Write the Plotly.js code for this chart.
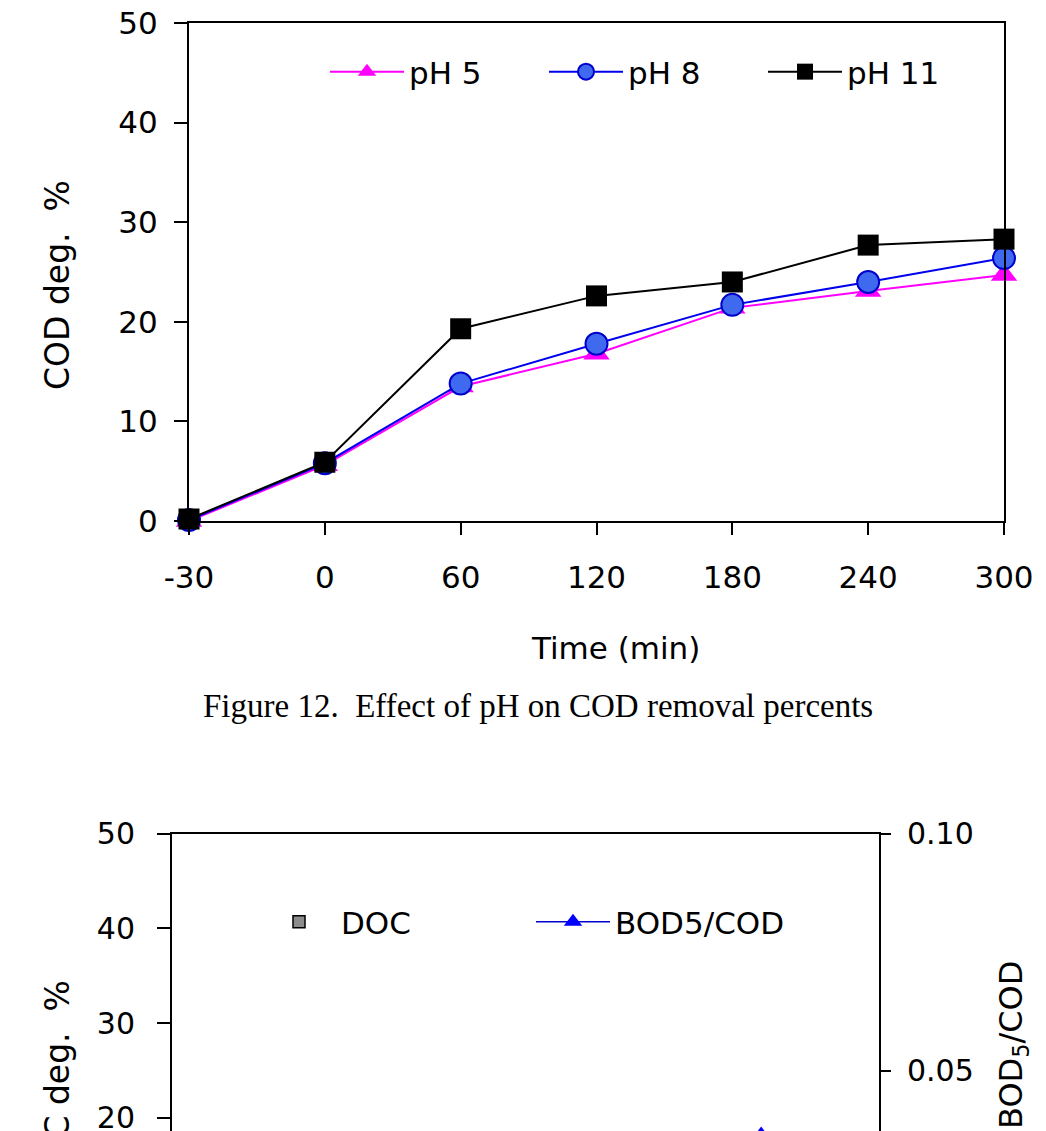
<!DOCTYPE html>
<html>
<head>
<meta charset="utf-8">
<script src="https://cdn.plot.ly/plotly-3.0.1.min.js"></script>
<style>
html, body { margin: 0; padding: 0; background: #fff; }
#wrap { width: 1046px; height: 1131px; overflow: hidden; position: relative; }
#chart { width: 1046px; height: 1150px; }
</style>
</head>
<body>
<div id="wrap"><div id="chart"></div></div>
<script>
// ---- data (top chart: Figure 12) ----
var timeLabels = ["-30", "0", "60", "120", "180", "240", "300"];
var ph5  = [0.0, 5.6, 13.5, 16.8, 21.4, 23.1, 24.7];
var ph8  = [0.1, 5.8, 13.8, 17.8, 21.7, 24.0, 26.4];
var ph11 = [0.2, 5.9, 19.3, 22.6, 24.0, 27.7, 28.3];
var seriesNames = ["pH 5", "pH 8", "pH 11"];
var xTitle = "Time (min)";
var yTitle = "COD deg. \u00a0%";
var caption = "Figure 12.\u00a0 Effect of pH on COD removal percents";

// ---- data (bottom chart, only the part visible in the crop) ----
var timeLabels2 = ["-30", "0", "60", "120", "180", "240", "300"];
var docVals = [null, null, null, null, null, null, null];
var bodCod  = [null, null, null, null, null, 0.036, null];
var seriesNames2 = ["DOC", "BOD5/COD"];
var yTitle2 = "DOC deg. \u00a0%";
var yTitle2R = "BOD<sub>5</sub>/COD";

// ---- layout helpers (pixel geometry) ----
var W = 1046, H = 1150;
function px(x) { return x / W; }
function py(y) { return 1 - y / H; }
var SANS = "DejaVu Sans, Liberation Sans, Arial, sans-serif";
var tickFont = {family: SANS, size: 31, color: "#000"};

// bottom chart: its top edge is at 833.7 px and it continues past the bottom of the page
var b2Top = 833.7, b2PxPerUnitL = 9.47, b2PxPerUnitR = 237 / 0.05;
var b2LeftMin = 50 - (H - b2Top) / b2PxPerUnitL;
var b2RightMin = 0.10 - (H - b2Top) / b2PxPerUnitR;

var traces = [
  {x: timeLabels, y: ph5, name: seriesNames[0], type: "scatter", mode: "lines+markers",
   xaxis: "x", yaxis: "y", cliponaxis: false,
   line: {color: "#FF00FF", width: 2},
   marker: {symbol: "triangle-up", size: 23, color: "#FF00FF", line: {width: 0}}},
  {x: timeLabels, y: ph8, name: seriesNames[1], type: "scatter", mode: "lines+markers",
   xaxis: "x", yaxis: "y", cliponaxis: false,
   line: {color: "#0000EE", width: 2},
   marker: {symbol: "circle", size: 22, color: "#3F6AF0", line: {color: "#0000CC", width: 2}}},
  {x: timeLabels, y: ph11, name: seriesNames[2], type: "scatter", mode: "lines+markers",
   xaxis: "x", yaxis: "y", cliponaxis: false,
   line: {color: "#000000", width: 2},
   marker: {symbol: "square", size: 21, color: "#000000", line: {width: 0}}},
  {x: timeLabels2, y: docVals, name: seriesNames2[0], type: "bar",
   xaxis: "x2", yaxis: "y2", legend: "legend2",
   marker: {color: "#8c8c8c", line: {color: "#000", width: 1.5}}},
  {x: timeLabels2, y: bodCod, name: seriesNames2[1], type: "scatter", mode: "lines+markers",
   xaxis: "x2", yaxis: "y4", legend: "legend2", cliponaxis: false,
   line: {color: "#0000CC", width: 1.5},
   marker: {symbol: "triangle-up", size: 21, color: "#0000FF"}}
];

var axCommon = {showgrid: false, zeroline: false, linecolor: "#000", linewidth: 2,
  tickcolor: "#000", tickwidth: 2, tickfont: tickFont, automargin: false,
  ticklabeloverflow: "allow"};

function ann(text, x, y, size, angle) {
  return {text: text, xref: "paper", yref: "paper", x: px(x), y: py(y),
    xanchor: "center", yanchor: "middle", showarrow: false, textangle: angle || 0,
    font: {family: SANS, size: size, color: "#000"}};
}

var layout = {
  width: W, height: H,
  margin: {l: 0, r: 0, t: 0, b: 0, autoexpand: false},
  paper_bgcolor: "#fff", plot_bgcolor: "rgba(0,0,0,0)",
  font: {family: SANS, color: "#000"},
  showlegend: true,
  // top chart
  xaxis: Object.assign({}, axCommon, {
    type: "category", categoryorder: "array", categoryarray: timeLabels,
    domain: [px(189), px(1004)], anchor: "y", range: [0, 6],
    showline: true, mirror: true, ticks: "outside", ticklen: 12, ticklabelstandoff: 16
  }),
  xaxis3: Object.assign({}, axCommon, {
    overlaying: "x", anchor: "y", type: "linear", range: [0, 6], tick0: 0, dtick: 1,
    ticks: "inside", ticklen: 10, showticklabels: false, showline: false
  }),
  yaxis: Object.assign({}, axCommon, {
    domain: [py(521), py(23)], anchor: "x", range: [0, 50], dtick: 10,
    showline: true, mirror: true, ticks: "outside", ticklen: 13, ticklabelstandoff: 10
  }),
  yaxis3: Object.assign({}, axCommon, {
    overlaying: "y", anchor: "x", side: "left", range: [0, 50], dtick: 10,
    ticks: "inside", ticklen: 10, showticklabels: false, showline: false
  }),
  // bottom chart (only its upper part is inside the page)
  xaxis2: Object.assign({}, axCommon, {
    type: "category", categoryorder: "array", categoryarray: timeLabels2,
    domain: [px(172), px(879)], anchor: "y2", range: [0, 6], side: "top",
    showline: true, ticks: "", showticklabels: false
  }),
  yaxis2: Object.assign({}, axCommon, {
    domain: [0, py(b2Top)], anchor: "x2", range: [b2LeftMin, 50], tick0: 0, dtick: 10,
    showline: true, mirror: true, ticks: "outside", ticklen: 13, ticklabelstandoff: 16,
    tickfont: {family: SANS, size: 30, color: "#000"}
  }),
  yaxis5: Object.assign({}, axCommon, {
    overlaying: "y2", anchor: "x2", side: "left", range: [b2LeftMin, 50], tick0: 0, dtick: 10,
    ticks: "inside", ticklen: 10, showticklabels: false, showline: false
  }),
  yaxis4: Object.assign({}, axCommon, {
    overlaying: "y2", anchor: "x2", side: "right", range: [b2RightMin, 0.10], tick0: 0, dtick: 0.05,
    tickformat: ".2f", showline: true, ticks: "outside", ticklen: 10, ticklabelstandoff: 10,
    tickfont: {family: SANS, size: 30, color: "#000"}
  }),
  yaxis6: Object.assign({}, axCommon, {
    overlaying: "y2", anchor: "x2", side: "right", range: [b2RightMin, 0.10], tick0: 0, dtick: 0.05,
    ticks: "inside", ticklen: 12, showticklabels: false, showline: false
  }),
  legend: {orientation: "h", x: px(325), xanchor: "left", y: py(72), yanchor: "middle",
    bgcolor: "rgba(0,0,0,0)", font: {family: SANS, size: 31, color: "#000"},
    entrywidth: 130, entrywidthmode: "pixels", itemwidth: 74},
  legend2: {orientation: "h", x: px(257), xanchor: "left", y: py(922), yanchor: "middle",
    bgcolor: "rgba(0,0,0,0)", font: {family: SANS, size: 31, color: "#000"},
    entrywidth: 185, entrywidthmode: "pixels", itemwidth: 74},
  annotations: [
    ann(xTitle, 615, 648, 31, 0),
    ann(yTitle, 57, 285, 33, -90),
    ann(yTitle2, 57, 1085, 33, -90),
    ann(yTitle2R, 1013, 1045, 32, -90),
    {text: caption, xref: "paper", yref: "paper",
     x: px(538), y: py(706), xanchor: "center", yanchor: "middle", showarrow: false,
     font: {family: "Liberation Serif, Times New Roman, serif", size: 33, color: "#000"}}
  ]
};

Plotly.newPlot("chart", traces, layout, {staticPlot: true, displayModeBar: false});
</script>
</body>
</html>
